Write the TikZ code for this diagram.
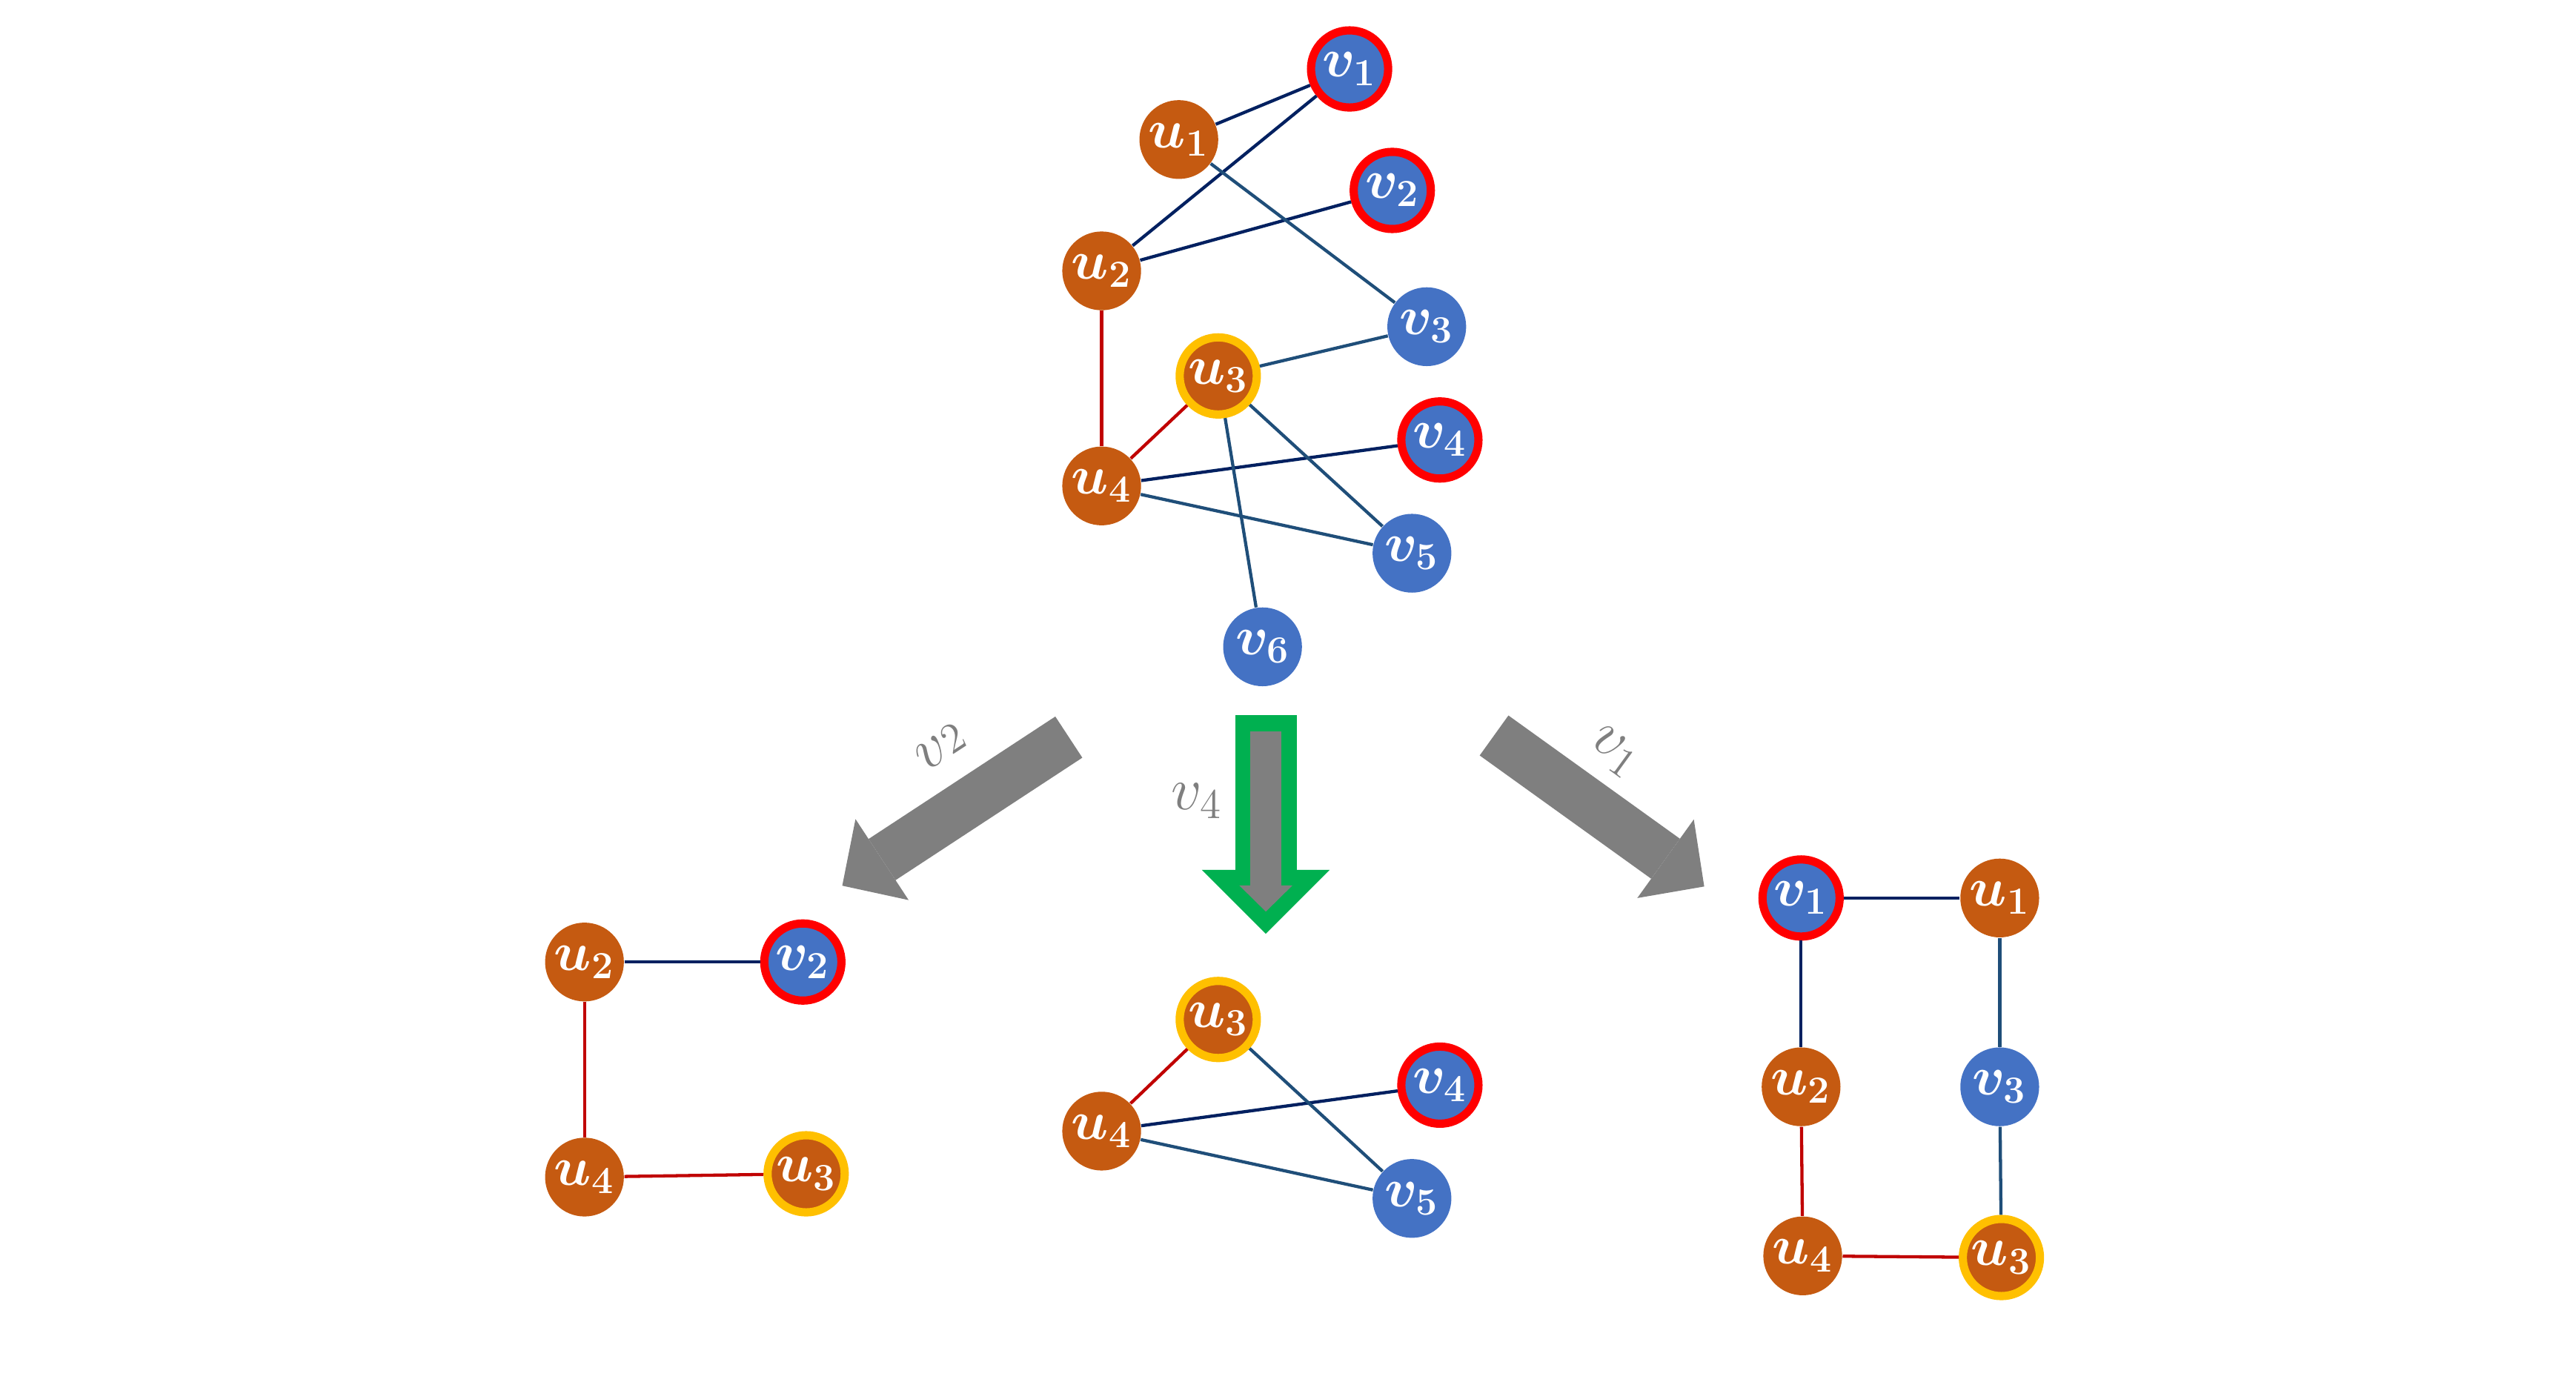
\documentclass[tikz,border=0pt]{standalone}
\usepackage{fix-cm}
\usetikzlibrary{arrows.meta}

\definecolor{uorange}{HTML}{C55A11}
\definecolor{vblue}{HTML}{4472C4}
\definecolor{ringred}{HTML}{FF0000}
\definecolor{ringyellow}{HTML}{FFC000}
\definecolor{edgenavy}{HTML}{002060}
\definecolor{edgeblue}{HTML}{1F4E79}
\definecolor{edgered}{HTML}{C00000}
\definecolor{arrowgray}{HTML}{7F7F7F}
\definecolor{arrowgreen}{HTML}{00B050}

\tikzset{
  unode/.style={circle, fill=uorange, minimum size=0.96cm, inner sep=0pt,
    text=white, font=\fontsize{19}{22}\selectfont\boldmath},
  vnode/.style={unode, fill=vblue},
  picked/.style={draw=ringred, line width=2.85pt, minimum size=0.94cm},
  kept/.style={draw=ringyellow, line width=2.85pt, minimum size=0.94cm},
  navyedge/.style={draw=edgenavy, line width=1.1pt},
  blueedge/.style={draw=edgeblue, line width=1.1pt},
  rededge/.style={draw=edgered, line width=1.1pt},
  grayarrow/.style={draw=arrowgray, line width=0.6cm,
    -{Triangle[length=0.58cm, width=1.18cm, line width=0pt]}},
  arrowlabel/.style={text=arrowgray, font=\fontsize{21}{25}\selectfont}
}

\begin{document}
\begin{tikzpicture}[x=0.02cm, y=-0.02cm]
  \useasboundingbox (0,0) rectangle (1569,841.6);
  % top graph
  \draw
    (822,42) node[vnode, picked] (tv1){$v_1$}
    (718,85) node[unode] (tu1){$u_1$}
    (848,116) node[vnode, picked] (tv2){$v_2$}
    (671,165) node[unode] (tu2){$u_2$}
    (869,199) node[vnode] (tv3){$v_3$}
    (742,229) node[unode, kept] (tu3){$u_3$}
    (877,268) node[vnode, picked] (tv4){$v_4$}
    (671,296) node[unode] (tu4){$u_4$}
    (860,337) node[vnode] (tv5){$v_5$}
    (769,394) node[vnode] (tv6){$v_6$};
  \begin{scope}[navyedge]
    \draw (tu1) to (tv1);
    \draw (tu2) to (tv1);
    \draw (tu2) to (tv2);
    \draw (tu4) to (tv4);
  \end{scope}
  \begin{scope}[blueedge]
    \draw (tu1) to (tv3);
    \draw (tu3) to (tv3);
    \draw (tu3) to (tv5);
    \draw (tu4) to (tv5);
    \draw (tu3) to (tv6);
  \end{scope}
  \begin{scope}[rededge]
    \draw (tu2) to (tu4);
    \draw (tu3) to (tu4);
  \end{scope}

  % removal arrows
  \coordinate (ltail) at (651,449);
  \coordinate (lhead) at (513,539.5);
  \coordinate (rtail) at (910,448);
  \coordinate (rhead) at (1038,540);
  \coordinate (mtail) at (771,435.7);
  \coordinate (mhead) at (771,568.8);
  \coordinate (itail) at (771,445.6);
  \coordinate (ihead) at (771,555.3);
  \draw[grayarrow] (ltail) -- (lhead);
  \draw[grayarrow] (rtail) -- (rhead);
  \draw[arrowgreen, line width=0.75cm,
    -{Triangle[length=0.78cm, width=1.56cm, line width=0pt]}] (mtail) -- (mhead);
  \draw[arrowgray, line width=0.38cm,
    -{Triangle[length=0.32cm, width=0.65cm, line width=0pt]}] (itail) -- (ihead);
  \node[arrowlabel, rotate=33] (labl) at (572.5,455) {$v{\scriptstyle 2}$};
  \node[arrowlabel] (labm) at (729,488) {$v_4$};
  \node[arrowlabel, rotate=-36] (labr) at (983,458) {$v_1$};

  % left graph
  \draw
    (356,586) node[unode] (lu2){$u_2$}
    (489,586) node[vnode, picked] (lv2){$v_2$}
    (356,717) node[unode] (lu4){$u_4$}
    (491,715) node[unode, kept] (lu3){$u_3$};
  \draw[navyedge] (lu2) to (lv2);
  \draw[rededge] (lu2) to (lu4);
  \draw[rededge] (lu4) to (lu3);

  % middle graph
  \draw
    (742,621) node[unode, kept] (mu3){$u_3$}
    (877,661) node[vnode, picked] (mv4){$v_4$}
    (671,689) node[unode] (mu4){$u_4$}
    (860,730) node[vnode] (mv5){$v_5$};
  \draw[rededge] (mu3) to (mu4);
  \draw[navyedge] (mu4) to (mv4);
  \draw[blueedge] (mu4) to (mv5);
  \draw[blueedge] (mu3) to (mv5);

  % right graph
  \draw
    (1097,547) node[vnode, picked] (rv1){$v_1$}
    (1218,547) node[unode] (ru1){$u_1$}
    (1097,662) node[unode] (ru2){$u_2$}
    (1218,662) node[vnode] (rv3){$v_3$}
    (1098,765) node[unode] (ru4){$u_4$}
    (1219,766) node[unode, kept] (ru3){$u_3$};
  \draw[navyedge] (rv1) to (ru1);
  \draw[navyedge] (rv1) to (ru2);
  \draw[blueedge] (ru1) to (rv3);
  \draw[blueedge] (rv3) to (ru3);
  \draw[rededge] (ru2) to (ru4);
  \draw[rededge] (ru4) to (ru3);
\end{tikzpicture}
\end{document}
